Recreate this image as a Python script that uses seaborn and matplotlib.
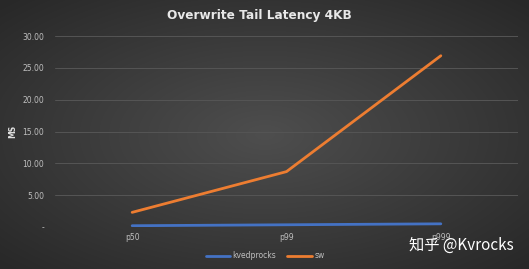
import numpy as np
import pandas as pd
import matplotlib
matplotlib.use("Agg")
import matplotlib.pyplot as plt
import seaborn as sns
from matplotlib.lines import Line2D

categories = ["p50", "p99", "p999"]
kvrocks_vals = [0.2, 0.35, 0.5]
sw_vals = [2.3, 8.7, 26.9]
series_names = ["kvedprocks", "sw"]
yticks = [0, 5, 10, 15, 20, 25, 30]
ytick_labels = ["-", "5.00", "10.00", "15.00", "20.00", "25.00", "30.00"]

df = pd.DataFrame({
    "x": list(range(len(categories))) * 2,
    "val": kvrocks_vals + sw_vals,
    "series": [series_names[0]] * 3 + [series_names[1]] * 3,
})

sns.set_theme(style="dark")
plt.rcParams['font.family'] = ['DejaVu Sans']

W, H = 529, 269
fig = plt.figure(figsize=(W / 100, H / 100), dpi=100)

# radial gradient background
bg = fig.add_axes([0, 0, 1, 1])
yy, xx = np.mgrid[0:H, 0:W]
r = np.sqrt(((xx - W / 2) / (W / 2)) ** 2 + ((yy - H / 2) / (H / 2)) ** 2)
r = np.clip(r / 1.4, 0, 1)
c_in = np.array([0x4e, 0x4e, 0x4e]) / 255
c_out = np.array([0x28, 0x28, 0x28]) / 255
img = c_in[None, None, :] * (1 - r[..., None]) + c_out[None, None, :] * r[..., None]
bg.imshow(img, aspect="auto", extent=[0, 1, 0, 1])
bg.set_axis_off()

ax = fig.add_axes([55 / W, 42 / H, (518 - 55) / W, 191 / H])
ax.patch.set_alpha(0)
sns.lineplot(data=df, x="x", y="val", hue="series",
             palette={series_names[0]: "#4472C4", series_names[1]: "#ED7D31"},
             linewidth=2.0, ax=ax, legend=False)

ax.set_xlim(-0.5, 2.5)
ax.set_ylim(0, 30)
ax.set_yticks(yticks)
ax.set_yticklabels(ytick_labels, color="#bfbfbf", fontsize=5.5)
ax.set_xticks(range(len(categories)))
ax.set_xticklabels(categories, color="#bfbfbf", fontsize=5.5)
ax.tick_params(axis="y", length=0, pad=8)
ax.tick_params(axis="x", length=0, pad=4)
ax.grid(axis="y", color="#555555", linewidth=0.7)
ax.grid(axis="x", visible=False)
for s in ax.spines.values():
    s.set_visible(False)
ax.set_xlabel("")
ax.set_ylabel("MS", color="#e0e0e0", fontsize=5.5, fontweight="bold")
ax.yaxis.set_label_coords((17 - 55) / (518 - 55), 0.5)

fig.text(0.49, 1 - 16 / H, "Overwrite Tail Latency 4KB", ha="center", va="center",
         color="#e8e8e8", fontsize=8.7, fontweight="bold")

handles = [Line2D([], [], color="#4472C4", lw=2), Line2D([], [], color="#ED7D31", lw=2)]
fig.legend(handles, series_names, loc="center", bbox_to_anchor=(265 / W, 1 - 256 / H),
           ncol=2, frameon=False, fontsize=5.5, labelcolor="#bfbfbf",
           handlelength=3.2, handletextpad=0.3, columnspacing=1.5)

fig.text(514 / W, 1 - 245 / H, "知乎 @Kvrocks", ha="right", va="center",
         color="#ffffff", fontsize=11, family=["Noto Sans CJK SC", "DejaVu Sans"])

fig.savefig("out.png", dpi=100)
